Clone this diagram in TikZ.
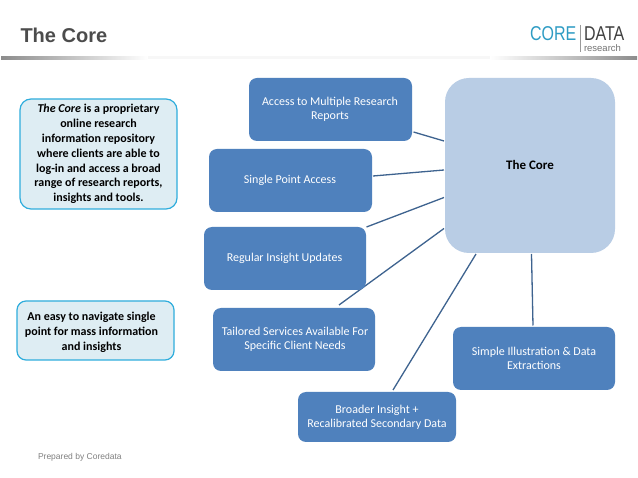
\documentclass[tikz,border=0pt]{standalone}
\usepackage{fontspec}
\setmainfont{Carlito}
\newfontfamily\arialf{Liberation Sans}
\usetikzlibrary{calc,fadings,positioning}
\definecolor{boxblue}{HTML}{4F81BD}
\definecolor{coreblue}{HTML}{B9CDE5}
\definecolor{linkblue}{HTML}{3E638F}
\definecolor{notefill}{HTML}{DEEDF3}
\definecolor{noteline}{HTML}{2FADDC}
\definecolor{logoblue}{HTML}{2E9CC4}
\tikzset{
  x=1pt,y=-1pt,
  every node/.style={inner sep=0pt,outer sep=0pt},
  topicbox/.style={fill=boxblue,rounded corners=8pt,minimum width=#1,text=white,align=center,font=\fontsize{12}{14.2}\selectfont},
  notebox/.style={fill=notefill,draw=noteline,line width=1.2pt,rounded corners=11pt,align=center,font=\bfseries\fontsize{12}{14.9}\selectfont,text=black},
  link/.style={draw=linkblue,line width=1.3pt},
  rulebar/.style={line width=2pt,draw=black!40}
}
\begin{document}
\begin{tikzpicture}
\useasboundingbox (0,0) rectangle (638,478);
\fill[white] (0,0) rectangle (638,478);
\fill[left color=black!45,right color=white] (1,56.5) rectangle (148,59.5);
\fill[left color=white,right color=black!45] (490,56.5) rectangle (637,59.5);
\fill[black!3] (148,56.5) rectangle (490,59.5);
\node[anchor=west,text=black!70,font=\arialf\bfseries\fontsize{20}{24}\selectfont] (title) at (20.5,35) {The Core};
\node[anchor=west,text=logoblue,font=\arialf\fontsize{20}{24}\selectfont,xscale=.8] (logoa) at (530,34) {CORE};
\node[anchor=west,text=black!75,font=\arialf\fontsize{20}{24}\selectfont,xscale=.8] (logob) at (584,34) {DATA};
\node[anchor=west,text=black!55,font=\arialf\fontsize{9.5}{11}\selectfont] (logoc) at (584,48) {research};
\draw[black!40,line width=.5pt] (580.5,25) -- (580.5,52);
% nodes, placed by centre
\path[use as bounding box] (0,0) rectangle (638,478);
\coordinate (accessc) at (330.5,109.5);
\node[minimum width=163pt,minimum height=63pt] (access) at (330.5,109.5) {};
\node[minimum width=163pt,minimum height=63pt] (single) at (290.5,180.5) {};
\node[minimum width=162pt,minimum height=63pt] (regular) at (285,258.5) {};
\node[minimum width=162pt,minimum height=63pt] (tailored) at (294,339.5) {};
\node[minimum width=162pt,minimum height=63pt] (simple) at (534,358.5) {};
\node[minimum width=158pt,minimum height=50pt] (broader) at (377,417) {};
\node[minimum width=170pt,minimum height=175pt] (core) at (530,165.5) {};
% connectors go behind the boxes
\draw[link] ($(access.south east)+(1.5,-9)$) -- ($(core.north west)+(-1,63)$);
\draw[link] ($(single.east)+(1,-4.5)$) -- ($(core.west)+(-1,4.5)$);
\draw[link] ($(regular.north east)+(.5,0)$) -- ($(core.west)+(-1,32)$);
\draw[link] ($(tailored.north)+(45,-3)$) -- ($(core.west)+(-1,63)$);
\draw[link] ($(broader.north)+(16,-2)$) -- ($(core.south west)+(31,1)$);
\draw[link] ($(simple.north)+(-1,-1.5)$) -- ($(core.south)+(1.5,1)$);
% boxes
\fill[boxblue,rounded corners=8pt] (access.north west) rectangle (access.south east);
\fill[boxblue,rounded corners=8pt] (single.north west) rectangle (single.south east);
\fill[boxblue,rounded corners=8pt] (regular.north west) rectangle (regular.south east);
\fill[boxblue,rounded corners=8pt] (tailored.north west) rectangle (tailored.south east);
\fill[boxblue,rounded corners=8pt] (simple.north west) rectangle (simple.south east);
\fill[boxblue,rounded corners=8pt] (broader.north west) rectangle (broader.south east);
\fill[coreblue,rounded corners=24pt] (core.north west) rectangle (core.south east);
% labels
\tikzset{topiclabel/.style={text=white,align=center,font=\fontsize{12}{14.2}\selectfont}}
\node[topiclabel] at (330,109) {Access to Multiple Research\\Reports};
\node[topiclabel] at (290,180) {Single Point Access};
\node[topiclabel] at (284.5,258.5) {Regular Insight Updates};
\node[topiclabel] at (295,339) {Tailored Services Available For\\Specific Client Needs};
\node[topiclabel] at (534,358.5) {Simple Illustration \& Data\\Extractions};
\node[topiclabel] at (377,417) {Broader Insight +\\Recalibrated Secondary Data};
\node[font=\bfseries\fontsize{13}{15}\selectfont,text=black] at (530,165) {The Core};
% notes
\draw[fill=notefill,draw=noteline,line width=1.2pt,rounded corners=11pt] (20,99) rectangle (177,209);
\node[align=center,font=\bfseries\fontsize{12}{14.85}\selectfont] (notea) at (98.5,154) {\textit{The Core} is a proprietary\\online research\\information repository\\where clients are able to\\log-in and access a broad\\range of research reports,\\insights and tools.};
\draw[fill=notefill,draw=noteline,line width=1.2pt,rounded corners=9pt] (17,301) rectangle (174,360);
\node[align=center,font=\bfseries\fontsize{12}{14.85}\selectfont] (noteb) at (91.5,332) {An easy to navigate single\\point for mass information\\and insights};
\node[anchor=west,text=black!50,font=\arialf\fontsize{8.5}{10}\selectfont] (foot) at (38,457) {Prepared by Coredata};
\end{tikzpicture}
\end{document}
